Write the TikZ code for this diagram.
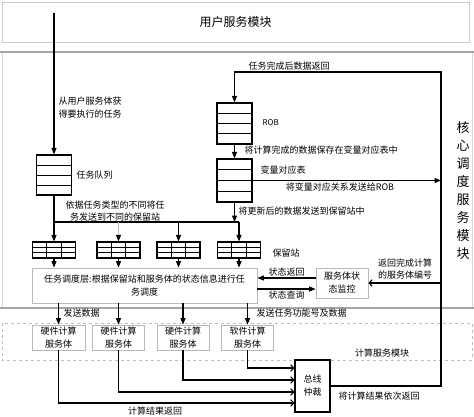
\documentclass[tikz,border=0pt]{standalone}
\usepackage{fontspec}
\setmainfont{Noto Sans CJK SC}
\usetikzlibrary{arrows.meta,calc}
\tikzset{
  arr/.style={-{Triangle[length=6.5pt,width=5pt]}},
  garr/.style={draw=gray!50,-{Triangle[length=6.5pt,width=5pt,color=black]}},
  oarr/.style={-{Straight Barb[length=3pt,width=6.5pt]}},
  lbl/.style={font=\fontsize{9}{12.5}\selectfont,inner sep=1pt},
  graybox/.style={draw=gray!55,line width=0.8pt,align=center,inner sep=0pt,font=\fontsize{9}{13}\selectfont},
  qbox/.style={draw,minimum width=35pt,minimum height=#1,inner sep=0pt,
    path picture={\foreach \f in {0.25,0.5,0.75}
      \draw[line width=0.7pt] ($(path picture bounding box.north west)!\f!(path picture bounding box.south west)$) -- ($(path picture bounding box.north east)!\f!(path picture bounding box.south east)$);}},
  rsbox/.style={draw,minimum width=43pt,minimum height=16pt,inner sep=0pt,
    path picture={\foreach \f in {0.333,0.667}{
      \draw[line width=0.7pt] ($(path picture bounding box.north west)!\f!(path picture bounding box.south west)$) -- ($(path picture bounding box.north east)!\f!(path picture bounding box.south east)$);
      \draw[line width=0.7pt] ($(path picture bounding box.north west)!\f!(path picture bounding box.north east)$) -- ($(path picture bounding box.south west)!\f!(path picture bounding box.south east)$);}}}
}
\begin{document}
\begin{tikzpicture}[x=1pt,y=-1pt,line width=1.1pt]
  \useasboundingbox (0,0) rectangle (474,417);
  \draw[gray!30,line width=0.8pt] (2,52) -- (2,308) (472,52) -- (472,308);
  \draw[gray!70,line width=1.2pt] (0,52) -- (474,52) (0,308) -- (474,308);
  \draw[gray!50,dashed,line width=0.6pt] (2,323) rectangle (472,360);
  \node[draw=gray!40,line width=0.8pt,minimum width=467pt,minimum height=40pt,font=\fontsize{12}{14}\selectfont] (user) at (235.5,22) {用户服务模块};
  \node[align=center,font=\fontsize{13}{17.9}\selectfont] (corelbl) at (463,190.5) {核\\心\\调\\度\\服\\务\\模\\块};

  \node[qbox=40pt] (tq) at (54,175) {};
  \node[qbox=41pt] (rob) at (234.5,123.5) {};
  \node[qbox=43pt] (vt) at (234.5,180.5) {};
  \node[rsbox] (rs1) at (54,250) {};
  \node[rsbox] (rs2) at (118.5,250) {};
  \node[rsbox] (rs3) at (178.5,250) {};
  \node[rsbox] (rs4) at (239,250) {};
  \node[graybox,minimum width=225pt,minimum height=35pt] (sched) at (144.5,285.5) {任务调度层:根据保留站和服务体的状态信息进行任\\务调度};
  \node[graybox,minimum width=52pt,minimum height=30pt] (mon) at (342,283) {服务体状\\态监控};
  \node[graybox,minimum width=53pt,minimum height=25pt] (sb1) at (58.5,337.5) {硬件计算\\服务体};
  \node[graybox,minimum width=52pt,minimum height=25pt] (sb2) at (118.5,337.5) {硬件计算\\服务体};
  \node[graybox,minimum width=52pt,minimum height=25pt] (sb3) at (183,337.5) {硬件计算\\服务体};
  \node[graybox,minimum width=52pt,minimum height=25pt] (sb4) at (247.5,337.5) {软件计算\\服务体};
  \node[draw,align=center,inner sep=0pt,minimum width=35pt,minimum height=52pt,font=\fontsize{9}{13}\selectfont] (arb) at (312.5,386) {总线\\仲裁};

  \coordinate (src) at (54,13);
  \coordinate (busl) at (54,222);
  \coordinate (busr) at (239,222);
  \coordinate (rt) at (441,72);

  \draw[arr] (src) -- (tq);
  \draw (tq) -- (busl) -- (busr);
  \draw[arr] (busl) -- (rs1);
  \draw[garr] (rs2 |- busl) -- (rs2);
  \draw[arr] (rs3 |- busl) -- (rs3);
  \draw[arr] (busr) -- (rs4);
  \foreach \i in {1,...,4}
    \draw[arr] (rs\i) -- (rs\i |- sched.north);
  \foreach \i in {1,...,4}
    \draw[arr] (sb\i |- sched.south) -- (sb\i);
  \foreach \i/\d in {1/-17,2/-6,3/6,4/18}
    \draw[oarr] (sb\i) |- ([yshift=\d pt]arb.west);

  \draw[arr] (rob) -- (vt);
  \draw[arr] (vt) -- (vt |- busl);
  \draw[arr] (vt.east) -- (vt.east -| rt);
  \draw[arr] (arb.east) -- (arb.east -| rt) -- (rt) -- (rob |- rt) -- (rob);
  \draw[oarr] (mon.east -| rt) -- (mon);
  \coordinate (mr) at ([yshift=5pt]mon.west);
  \coordinate (mq) at ([yshift=-6pt]mon.west);
  \draw[arr] (mr) -- (mr -| sched.east) node[lbl,above,midway] (lret) {状态返回};
  \draw[arr] (mq -| sched.east) -- (mq) node[lbl,below,midway] (lqry) {状态查询};

  \node[lbl,anchor=west,align=left] (lsrc) at (57,107.5) {从用户服务体获\\得要执行的任务};
  \node[lbl,anchor=west] (ltq) at (75,175) {任务队列};
  \node[lbl] (ldone) at (289,66) {任务完成后数据返回};
  \node[lbl,anchor=west,font=\fontsize{8}{10}\selectfont] (lrob) at (261,123) {ROB};
  \node[lbl,anchor=west] (lsave) at (243,150) {将计算完成的数据保存在变量对应表中};
  \node[lbl,anchor=west] (lvt) at (259,170) {变量对应表};
  \node[lbl] (lmap) at (340,187) {将变量对应关系发送给ROB};
  \node[lbl,anchor=west] (lupd) at (237,211) {将更新后的数据发送到保留站中};
  \node[lbl,align=center] (ldisp) at (115,211) {依据任务类型的不同将任\\务发送到不同的保留站};
  \node[lbl,anchor=west] (lrs) at (271,253) {保留站};
  \node[lbl,align=center] (lid) at (405,269) {返回完成计算\\的服务体编号};
  \node[lbl,anchor=west] (lsend) at (62,313) {发送数据};
  \node[lbl,anchor=west] (lsendf) at (255,313) {发送任务功能号及数据};
  \node[lbl] (lcomp) at (382,353) {计算服务模块};
  \node[lbl] (lback) at (379,396) {将计算结果依次返回};
  \node[lbl] (lres) at (155,411) {计算结果返回};
\end{tikzpicture}
\end{document}
